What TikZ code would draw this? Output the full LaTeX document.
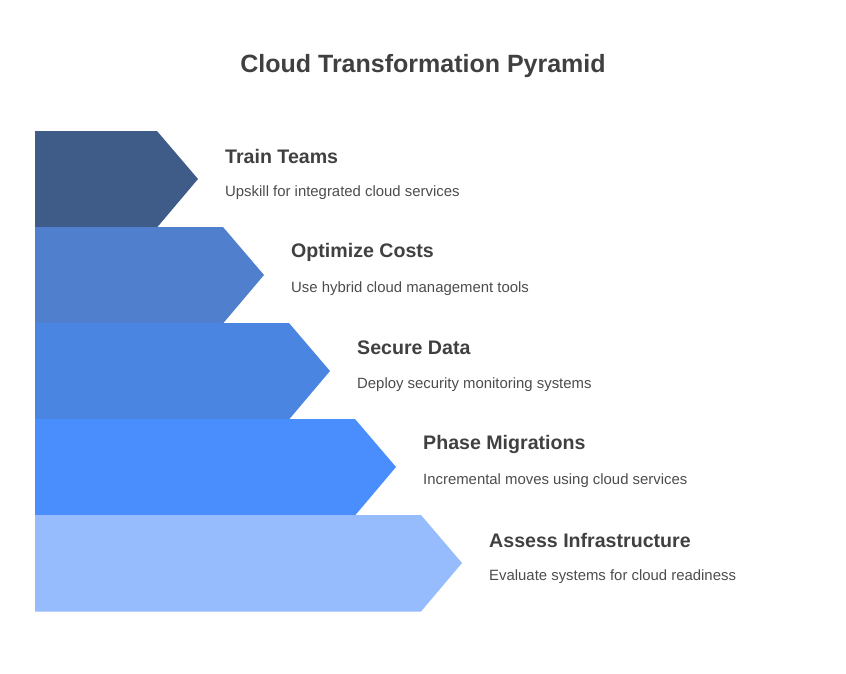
\documentclass[tikz,border=0pt]{standalone}
\usepackage{fontspec}
\setmainfont{Liberation Sans}
\begin{document}
\begin{tikzpicture}[x=1pt,y=-1pt,
  head/.style={anchor=west,font=\bfseries\fontsize{19.6}{22}\selectfont,text=black!75,inner xsep=0pt},
  desc/.style={anchor=west,font=\fontsize{14.9}{17}\selectfont,text=black!70,inner xsep=0pt},
  band/.style={draw=none}]
\useasboundingbox (0,0) rectangle (846,673);
\definecolor{c1}{HTML}{3F5B88}
\definecolor{c2}{HTML}{4F7FCD}
\definecolor{c3}{HTML}{4A86E1}
\definecolor{c4}{HTML}{4A8EFE}
\definecolor{c5}{HTML}{97BCFE}
\node[font=\bfseries\fontsize{25}{28}\selectfont,text=black!75] (title) at (423,66) {Cloud Transformation Pyramid};
\foreach \i/\c/\h/\d in {0/c1/Train Teams/Upskill for integrated cloud services,
  1/c2/Optimize Costs/Use hybrid cloud management tools,
  2/c3/Secure Data/Deploy security monitoring systems,
  3/c4/Phase Migrations/Incremental moves using cloud services,
  4/c5/Assess Infrastructure/Evaluate systems for cloud readiness}{
  \pgfmathsetmacro{\yt}{131+96*\i}
  \pgfmathsetmacro{\yb}{\yt+96.5}
  \pgfmathsetmacro{\ym}{\yt+48}
  \pgfmathsetmacro{\xr}{157+66*\i}
  \pgfmathsetmacro{\xt}{198+66*\i}
  \fill[\c] (35,\yt) -- (\xr,\yt) -- (\xt,\ym) -- (\xr,\yb) -- (35,\yb) -- cycle;
  \node[head] (h\i) at (\xt+27,\ym-23) {\h};
  \node[desc] (d\i) at (\xt+27,\ym+13.5) {\d};
}
\end{tikzpicture}
\end{document}
